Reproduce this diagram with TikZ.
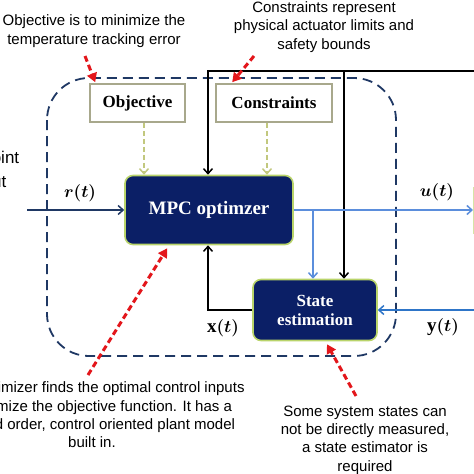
\documentclass[tikz,border=0pt]{standalone}
\usepackage{amsmath}
\usepackage{fontspec}
\setmainfont{Liberation Serif}
\newfontfamily\annfont{Liberation Sans}
\usetikzlibrary{arrows.meta}
\definecolor{navyfill}{HTML}{0B1F66}
\definecolor{boxrim}{HTML}{B9D46A}
\definecolor{framecol}{HTML}{1F3864}
\definecolor{ublue}{HTML}{5B8EDC}
\definecolor{yblue}{HTML}{2E75C8}
\definecolor{redann}{HTML}{E3161B}
\definecolor{olivearr}{HTML}{C2C87E}
\definecolor{greyrim}{HTML}{A8A88C}
\definecolor{plantfill}{HTML}{EEF3D8}
\newcommand{\bsym}[1]{\boldsymbol{#1}}
\tikzset{
  frame/.style={draw=framecol, line width=1.8pt, dash pattern=on 10pt off 6pt, rounded corners=42pt},
  whitebox/.style={draw=greyrim, line width=1.6pt, fill=white, minimum height=38pt, inner sep=0pt,
    font=\fontsize{17}{20}\selectfont\bfseries},
  navybox/.style={draw=boxrim, line width=1.6pt, fill=navyfill, rounded corners=8pt, inner sep=0pt,
    text=white, font=\fontsize{17}{20}\selectfont\bfseries, align=center},
  plantbox/.style={draw=boxrim!60, line width=1pt, fill=plantfill, minimum width=40pt, minimum height=46pt, anchor=west},
  blk/.style={draw=black, line width=1.5pt, -{Straight Barb[length=5pt,width=9pt]}},
  ul/.style={draw=ublue, line width=1.5pt, -{Straight Barb[length=5pt,width=9pt]}},
  yl/.style={draw=yblue, line width=1.5pt, -{Straight Barb[length=5pt,width=9pt]}},
  rl/.style={draw=framecol, line width=1.5pt, -{Straight Barb[length=5pt,width=9pt]}},
  olv/.style={draw=olivearr, line width=1.5pt, dash pattern=on 5pt off 3pt, -{Straight Barb[length=5pt,width=9pt]}},
  redarr/.style={draw=redann, line width=3pt, dash pattern=on 6pt off 3.5pt, -{Triangle[length=9pt,width=10pt]}},
  ann/.style={font=\annfont\fontsize{15}{18.3}\selectfont, align=center, inner sep=0pt},
  sig/.style={font=\fontsize{19}{21}\selectfont, inner sep=0pt}
}
\begin{document}
\begin{tikzpicture}[x=1pt,y=-1pt]
\clip (0,0) rectangle (474,474);
\fill[white] (0,0) rectangle (474,474);

% annotations
\node[ann] (t1) at (94,31) {Objective is to minimize the\\temperature tracking error};
\node[ann] (t2) at (324,27) {Constraints represent\\physical actuator limits and\\safety bounds};
\node[ann] (t3) at (92,415) {MPC optimizer finds the optimal control inputs\\to minimize the objective function. It has a\\reduced order, control oriented plant model\\built in.};
\node[ann] (t4) at (365,440) {Some system states can\\not be directly measured,\\a state estimator is\\required};
\node[font=\annfont\fontsize{17}{24}\selectfont, align=center, inner sep=0pt] (sp) at (-12,171) {Setpoint\\input};

% frame
\draw[frame] (47,78) rectangle (396,356);

% boxes
\node[whitebox, minimum width=95pt] (obj) at (137.5,103) {Objective};
\node[whitebox, minimum width=116pt] (con) at (274,103) {Constraints};
\node[navybox, minimum width=168pt, minimum height=69pt, font=\fontsize{19}{22}\selectfont\bfseries] (mpc) at (209,210) {MPC optimzer};
\node[navybox, minimum width=124pt, minimum height=61pt] (se) at (315,310) {State\\[-1pt]estimation};
\node[plantbox] (plant) at (473,210) {};

% coordinates
\coordinate (fbR) at (490,71);
\coordinate (c1) at (208,71);
\coordinate (c2) at (344,71);
\coordinate (c3) at (313,210);
\coordinate (yin) at (490,310);
\coordinate (rin) at (27,210);

% black feedback lines
\draw[blk] (fbR) -- (c1) -- (c1 |- mpc.north);
\draw[blk] (c2) -- (c2 |- se.north);
\draw[blk] (se.west) -| (c1 |- mpc.south);

% blue lines
\draw[ul] (mpc.east) -- (plant.west);
\draw[ul] (c3) -- (c3 |- se.north);
\draw[yl] (yin) -- (se.east |- yin);
\draw[rl] (rin) -- (mpc.west);

% olive dashed arrows
\draw[olv] ([xshift=6.5pt]obj.south) -- ([xshift=6.5pt]obj.south |- mpc.north);
\draw[olv] ([xshift=-7pt]con.south) -- ([xshift=-7pt]con.south |- mpc.north);

% signal labels
\node[sig] (lr) at (80,193) {$\bsym{r}\bsym{(}\bsym{t}\bsym{)}$};
\node[sig] (lu) at (437,192) {$\bsym{u}\bsym{(}\bsym{t}\bsym{)}$};
\node[sig] (lx) at (223,328) {$\mathbf{x}\bsym{(}\bsym{t}\bsym{)}$};
\node[sig] (ly) at (443,327) {$\mathbf{y}\bsym{(}\bsym{t}\bsym{)}$};

% red annotation arrows
\coordinate (a1) at (85,56);
\coordinate (a2) at (254,56);
\coordinate (a3) at (88,375);
\coordinate (a4) at (356,396);
\draw[redarr] (a1) -- ([xshift=6pt,yshift=1pt]obj.north west);
\draw[redarr] (a2) -- ([xshift=17pt,yshift=1pt]con.north west);
\draw[redarr] (a3) -- ([xshift=43pt,yshift=-3pt]mpc.south west);
\draw[redarr] (a4) -- ([xshift=12pt,yshift=-3pt]se.south);
\end{tikzpicture}
\end{document}
